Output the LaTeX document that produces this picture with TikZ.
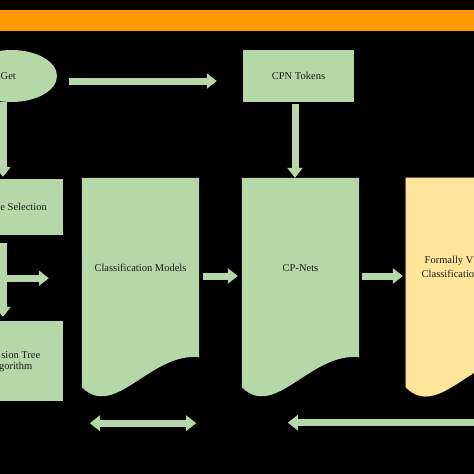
\documentclass[tikz,border=0pt]{standalone}
\usepackage{fontspec}
\setmainfont{Liberation Serif}
\usepackage{tikz}
\usetikzlibrary{arrows.meta,backgrounds,shapes.geometric}
\definecolor{boxgreen}{HTML}{B6D7A8}
\definecolor{boxyellow}{HTML}{FFE599}
\definecolor{bandorange}{HTML}{FF9900}
\definecolor{inkgray}{HTML}{1C1C1C}
\tikzstyle{txt}=[text=inkgray,inner sep=0pt,font=\fontsize{10.5}{12}\selectfont]
\tikzstyle{block}=[rectangle,fill=boxgreen,text=inkgray,inner sep=0pt,
font=\fontsize{10.5}{12}\selectfont]
\tikzstyle{source}=[ellipse,fill=boxgreen,inner sep=0pt]
\tikzstyle{docbox}=[rectangle,inner sep=0pt,minimum width=117pt,minimum height=219pt]
\tikzstyle{flow}=[line width=7pt,draw=boxgreen,-{Triangle[length=10pt,width=15pt]}]
\newcommand{\wavedoc}[2]{%
  \path[#2] (#1.north west) -- ([yshift=10pt]#1.south west)
    .. controls ([xshift=33pt,yshift=-23pt]#1.south west)
    and ([xshift=-49pt,yshift=45pt]#1.south east)
    .. ([yshift=40pt]#1.south east) -- (#1.north east) -- cycle;}

\begin{document}
\begin{tikzpicture}[x=1pt,y=-1pt]
    \useasboundingbox (0,0) rectangle (474,474);
    \clip (0,0) rectangle (474,474);
    % top row: source and tokens
    \node[source,minimum width=91pt,minimum height=52pt] (data) at (11.5,76) {};
    \node[txt,anchor=west] (datatxt) at (0.5,76) {Get};
    \node[block,minimum width=111pt,minimum height=52pt] (cpn) at (298.5,76) {CPN Tokens};
    % left column
    \node[block,minimum width=103pt,minimum height=56pt] (feat) at (11.5,207) {};
    \node[txt,anchor=east] (feattxt) at (47,207) {e Selection};
    \node[block,minimum width=103pt,minimum height=80pt] (dtree) at (11.5,361) {};
    \node[txt,anchor=east] (dtreetxt1) at (40.5,355) {sion Tree};
    \node[txt,anchor=east] (dtreetxt2) at (32.5,367) {gorithm};
    % document shaped stages
    \node[docbox,label={[txt,name=clsmodtxt,yshift=19.5pt]center:Classification Models}]
      (clsmod) at (140.5,287.5) {};
    \node[docbox,label={[txt,name=cpnetstxt,yshift=19.5pt]center:CP-Nets}]
      (cpnets) at (300.5,287.5) {};
    \node[docbox] (fv) at (464.5,287.5) {};
    \node[txt,anchor=west] (fvtxt1) at ([xshift=-40pt,yshift=26.5pt]fv.center) {Formally V};
    \node[txt,anchor=west] (fvtxt2) at ([xshift=-43pt,yshift=13.5pt]fv.center) {Classificatio};
    \begin{scope}[on background layer]
      \fill[black] (0,0) rectangle (474,474);
      \fill[bandorange] (0,10) rectangle (474,31);
      \wavedoc{clsmod}{fill=boxgreen}
      \wavedoc{cpnets}{fill=boxgreen}
      \wavedoc{fv}{fill=boxyellow,draw=boxyellow!85!orange,line width=0.5pt}
    \end{scope}
    % connectors
    \draw[flow] ([xshift=12pt,yshift=-5pt]data.east) -- ([xshift=-26pt,yshift=-5pt]cpn.west);
    \draw[flow,shorten <=2pt] ([xshift=-3.5pt]cpn.south)
      -- ([xshift=-3.5pt]cpn.south |- cpnets.north);
    \draw[flow,shorten >=2pt] ([xshift=-8.5pt]data.south) -- ([xshift=-8.5pt]feat.north);
    \draw[flow,shorten <=8pt,shorten >=4pt] ([xshift=-8.5pt]feat.south)
      -- ([xshift=-8.5pt]dtree.north);
    \coordinate (split) at ([xshift=-8.5pt,yshift=-43pt]feat.south);
    \draw[flow] (split) -- ([xshift=-33pt]split -| clsmod.west);
    \draw[flow,shorten <=4pt,shorten >=4pt] ([yshift=11.5pt]clsmod.east)
      -- ([yshift=11.5pt]cpnets.west);
    \draw[flow,shorten <=3pt,shorten >=3pt] ([yshift=11.5pt]cpnets.east)
      -- ([yshift=11.5pt]fv.west);
    % feedback arrows
    \coordinate (dblleft) at ([xshift=8pt,yshift=-26pt]clsmod.south west);
    \coordinate (dblright) at ([xshift=-3pt,yshift=-26pt]clsmod.south east);
    \draw[flow,{Triangle[length=10pt,width=15pt]}-{Triangle[length=10pt,width=15pt]}]
      (dblleft) -- (dblright);
    \coordinate (retleft) at ([xshift=46pt,yshift=-25.5pt]cpnets.south west);
    \coordinate (retright) at ([yshift=-25.5pt]fv.south east);
    \draw[flow] (retright) -- (retleft);
\end{tikzpicture}
\end{document}
